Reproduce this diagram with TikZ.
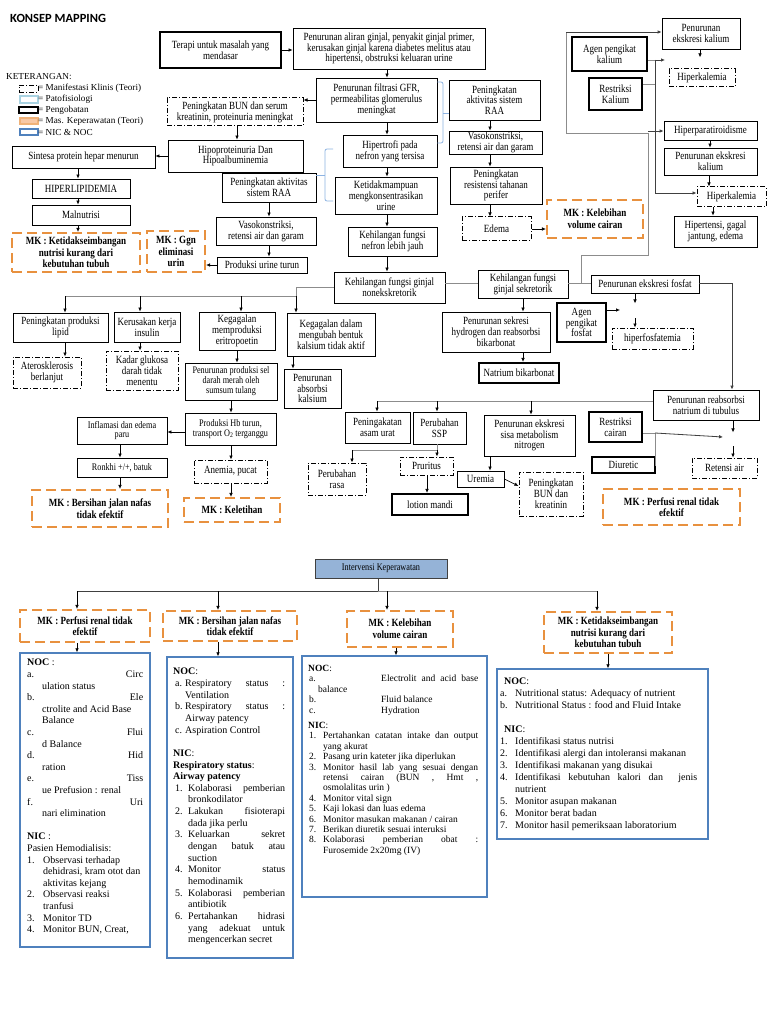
\documentclass[tikz,border=0pt]{standalone}
\usepackage{fontspec}
\setmainfont{Liberation Serif}
\newfontfamily\cfont[FakeStretch=0.82]{Liberation Serif}
\newfontfamily\ttlfont{Carlito}
\usetikzlibrary{arrows.meta}
\definecolor{mkor}{HTML}{E8913F}
\definecolor{nicb}{HTML}{4F81BD}
\definecolor{lgray}{HTML}{8C8C8C}
\definecolor{dgray}{HTML}{404040}
\definecolor{brkb}{HTML}{8DB3E2}
\definecolor{intf}{HTML}{95B3D7}
\definecolor{pato}{HTML}{A9D3E2}
\definecolor{peach}{HTML}{F7C8A5}
\newcommand\tfA{\cfont\fontsize{11}{10.8}\selectfont}
\newcommand\tfS{\cfont\fontsize{10}{9.9}\selectfont}
\newcommand\tfB{\cfont\bfseries\fontsize{11}{11.6}\selectfont}
\newcommand\tfL{\fontsize{9.2}{10}\selectfont}
\newcommand\jl[2]{\hbox to #1{#2}}
\newcommand\bx[7]{%
 \pgfmathsetmacro\bxcx{(#3+#5)/2}%
 \pgfmathsetmacro\bxcy{(#4+#6)/2}%
 \pgfmathsetmacro\bxw{#5-#3}%
 \pgfmathsetmacro\bxh{#6-#4}%
 \node[#1, minimum width=\bxw pt, minimum height=\bxh pt] (#2) at (\bxcx,\bxcy) {#7};}
\newcommand\va[3]{\draw[arr] (#1.south -| #3,0) -- (#2.north -| #3,0);}
\newcommand\har[3]{\draw[arr] (#1.east |- 0,#3) -- (#2.west |- 0,#3);}
\newcommand\hal[3]{\draw[arr] (#1.west |- 0,#3) -- (#2.east |- 0,#3);}
\tikzset{
 base/.style={draw=black, line width=0.8pt, fill=white, align=center, inner sep=1pt, font=\tfA},
 pbox/.style={base},
 sbox/.style={base, font=\tfS},
 thk/.style={base, line width=2.2pt},
 mani/.style={base, line width=1pt, dash pattern=on 5pt off 2pt on 1pt off 2pt},
 mk/.style={base, draw=mkor, line width=2.2pt, dash pattern=on 10pt off 5pt, font=\tfB},
 nic/.style={draw=nicb, line width=1.3pt, fill=white, inner sep=0pt},
 arr/.style={-{Latex[length=4pt,width=3.6pt]}, line width=0.7pt, draw=black},
 ln/.style={line width=0.8pt, draw=lgray},
 lna/.style={ln, -{Latex[length=4pt,width=3.6pt]}, draw=dgray},
 brk/.style={draw=brkb, line width=0.8pt, rounded corners=2pt},
 ntxt/.style={anchor=north west, align=left, inner sep=0pt},
}
\begin{document}
\begin{tikzpicture}[x=1pt,y=-1pt]
\useasboundingbox (0,0) rectangle (768,1024);
\fill[white] (0,0) rectangle (768,1024);
% title and legend
\node[anchor=base west, inner sep=0pt, font=\ttlfont\bfseries\fontsize{12.5}{14}\selectfont] (title) at (10,23) {KONSEP MAPPING};
\node[anchor=west, inner sep=0pt, font=\tfL] (ket) at (6,76.5) {KETERANGAN:};
\bx{mani, inner sep=0pt, line width=0.8pt}{lg1}{19}{85}{38}{92}{}
\bx{base, draw=pato, line width=1.4pt, inner sep=0pt}{lg2}{20}{96}{38}{103}{}
\bx{thk, inner sep=0pt, line width=1.8pt}{lg3}{19}{107}{38}{113}{}
\bx{base, fill=peach, draw=mkor!70, line width=1.2pt, inner sep=0pt}{lg4}{20}{118}{38}{124}{}
\bx{base, draw=nicb, fill=white, line width=1.6pt, inner sep=0pt}{lg5}{20}{129}{38}{135}{}
\begin{scope}[every node/.style={anchor=west, inner sep=0pt, font=\tfL}]
\node (lt1) at (38,88.5) {= Manifestasi Klinis (Teori)};
\node (lt2) at (38,99.5) {= Patofisiologi};
\node (lt3) at (38,110.5) {= Pengobatan};
\node (lt4) at (38,121.5) {= Mas. Keperawatan (Teori)};
\node (lt5) at (38,132.5) {= NIC \& NOC};
\end{scope}
% ---------- top diagram nodes
\bx{thk}{terapi}{160}{32}{281}{68}{Terapi untuk masalah yang\\mendasar}
\bx{pbox}{aliran}{293}{28}{485}{69}{Penurunan aliran ginjal, penyakit ginjal primer,\\kerusakan ginjal karena diabetes melitus atau\\hipertensi, obstruksi keluaran urine}
\bx{pbox}{gfr}{316}{78}{437}{122}{Penurunan filtrasi GFR,\\permeabilitas glomerulus\\meningkat}
\bx{mani}{bun}{167}{98}{303}{126}{Peningkatan BUN dan serum\\kreatinin, proteinuria meningkat}
\bx{pbox}{hipo}{168}{140}{303}{172}{Hipoproteinuria Dan\\Hipoalbuminemia}
\bx{pbox}{sintesa}{12}{146}{155}{168}{Sintesa protein hepar menurun}
\bx{pbox}{hiperlip}{32}{179}{130}{198}{HIPERLIPIDEMIA}
\bx{pbox}{malnut}{32}{205}{130}{225}{Malnutrisi}
\bx{mk}{mk1}{12}{233}{140}{272}{MK : Ketidakseimbangan\\nutrisi kurang dari\\kebutuhan tubuh}
\bx{mk}{mk2}{147}{231}{205}{272}{MK : Ggn\\eliminasi\\urin}
\bx{pbox}{raaL}{222}{173}{316}{202}{Peningkatan aktivitas\\sistem RAA}
\bx{pbox}{vasoL}{216}{217}{316}{245}{Vasokonstriksi,\\retensi air dan garam}
\bx{pbox}{produksi}{217}{257}{307}{273}{Produksi urine turun}
\bx{pbox}{hipertrofi}{343}{135}{437}{167}{Hipertrofi pada\\nefron yang tersisa}
\bx{pbox}{ketidak}{335}{177}{437}{214}{Ketidakmampuan\\mengkonsentrasikan\\urine}
\bx{pbox}{nefron}{348}{227}{437}{256}{Kehilangan fungsi\\nefron lebih jauh}
\bx{pbox}{nonsek}{334}{272}{445}{303}{Kehilangan fungsi ginjal\\nonekskretorik}
\bx{pbox}{sek}{478}{270}{568}{298}{Kehilangan fungsi\\ginjal sekretorik}
\bx{pbox}{raaR}{449}{80}{540}{120}{Peningkatan\\aktivitas sistem\\RAA}
\bx{pbox}{vasoR}{449}{131}{542}{154}{Vasokonstriksi,\\retensi air dan garam}
\bx{pbox}{resist}{450}{167}{542}{204}{Peningkatan\\resistensi tahanan\\perifer}
\bx{mani}{edema}{462}{217}{531}{240}{Edema}
\bx{mk}{mk3}{547}{200}{643}{238}{MK : Kelebihan\\volume cairan}
\bx{thk}{agenK}{572}{37}{647}{71}{Agen pengikat\\kalium}
\bx{thk}{restK}{589}{78}{642}{110}{Restriksi\\Kalium}
\bx{pbox}{ekskK}{662}{18}{740}{49}{Penurunan\\ekskresi kalium}
\bx{mani}{hiperK1}{669}{69}{735}{87}{Hiperkalemia}
\bx{pbox}{hpt}{664}{121}{757}{140}{Hiperparatiroidisme}
\bx{pbox}{ekskK2}{664}{148}{757}{175}{Penurunan ekskresi\\kalium}
\bx{mani}{hiperK2}{697}{187}{766}{207}{Hiperkalemia}
\bx{pbox}{hipertensi}{674}{216}{757}{247}{Hipertensi, gagal\\jantung, edema}
\bx{pbox}{lipid}{13}{313}{108}{342}{Peningkatan produksi\\lipid}
\bx{pbox}{insulin}{114}{312}{180}{342}{Kerusakan kerja\\insulin}
\bx{pbox}{eritro}{199}{312}{275}{350}{Kegagalan\\memproduksi\\eritropoetin}
\bx{pbox}{kalsium}{287}{313}{375}{356}{Kegagalan dalam\\mengubah bentuk\\kalsium tidak aktif}
\bx{mani}{ater}{13}{357}{81}{388}{Aterosklerosis\\berlanjut}
\bx{mani}{glukosa}{106}{351}{178}{390}{Kadar glukosa\\darah tidak\\menentu}
\bx{sbox}{sdm}{185}{363}{277}{400}{Penurunan produksi sel\\darah merah oleh\\sumsum tulang}
\bx{pbox}{absorbsi}{284}{369}{341}{408}{Penurunan\\absorbsi\\kalsium}
\bx{sbox}{hb}{185}{413}{276}{445}{Produksi Hb turun,\\transport O\textsubscript{2} terganggu}
\bx{sbox}{inflamasi}{77}{417}{167}{444}{Inflamasi dan edema\\paru}
\bx{sbox}{ronkhi}{77}{458}{167}{477}{Ronkhi +/+, batuk}
\bx{mk}{mk4}{32}{490}{168}{527}{MK : Bersihan jalan nafas\\tidak efektif}
\bx{mani}{anemia}{194}{460}{267}{483}{Anemia, pucat}
\bx{mk}{mk5}{184}{498}{280}{522}{MK : Keletihan}
\bx{pbox}{hydrogen}{442}{312}{550}{352}{Penurunan sekresi\\hydrogen dan reabsorbsi\\bikarbonat}
\bx{thk}{natrium}{479}{363}{559}{383}{Natrium bikarbonat}
\bx{pbox}{fosfat}{591}{275}{699}{293}{Penurunan ekskresi fosfat}
\bx{thk}{agenF}{557}{303}{606}{342}{Agen\\pengikat\\fosfat}
\bx{mani}{hiperF}{612}{328}{693}{349}{hiperfosfatemia}
\bx{pbox}{reabs}{653}{390}{759}{420}{Penurunan reabsorbsi\\natrium di tubulus}
\bx{pbox}{urat}{345}{412}{410}{443}{Peningakatan\\asam urat}
\bx{pbox}{ssp}{413}{412}{466}{444}{Perubahan\\SSP}
\bx{pbox}{nitrogen}{484}{415}{575}{456}{Penurunan ekskresi\\sisa metabolism\\nitrogen}
\bx{mani}{rasa}{308}{463}{366}{495}{Perubahan\\rasa}
\bx{mani}{pruritus}{400}{457}{453}{475}{Pruritus}
\bx{thk}{lotion}{392}{494}{468}{515}{lotion mandi}
\bx{pbox}{uremia}{457}{471}{504}{487}{Uremia}
\bx{mani}{bunR}{519}{472}{583}{516}{Peningkatan\\BUN dan\\kreatinin}
\bx{thk}{restC}{589}{412}{642}{442}{Restriksi\\cairan}
\bx{thk}{diuretic}{592}{457}{655}{473}{Diuretic}
\bx{mani}{retensi}{692}{458}{757}{478}{Retensi air}
\bx{mk}{mk6}{603}{489}{740}{525}{MK : Perfusi renal tidak\\efektif}
% ---------- top connectors
\har{terapi}{aliran}{50}
\va{aliran}{gfr}{387}
\hal{gfr}{bun}{100}
\va{bun}{hipo}{237}
\hal{hipo}{sintesa}{156}
\va{sintesa}{hiperlip}{78}
\va{hiperlip}{malnut}{78}
\va{malnut}{mk1}{78}
\va{gfr}{hipertrofi}{387}
\va{hipertrofi}{ketidak}{387}
\va{ketidak}{nefron}{387}
\va{nefron}{nonsek}{387}
\va{raaL}{vasoL}{269}
\va{vasoL}{produksi}{269}
\hal{produksi}{mk2}{265}
\va{raaR}{vasoR}{490}
\va{vasoR}{resist}{490}
\va{resist}{edema}{490}
\har{edema}{mk3}{229}
% brackets
\draw[brk] (gfr.east |- 0,82) -- (443,82) -- (443,143) -- (hipertrofi.east |- 0,143);
\draw[brk] (443,113) -- (raaR.west |- 0,113);
\draw[brk] (333,149) -- (325,149) -- (325,201) -- (333,201);
\draw[brk] (325,175) -- (raaL.east |- 0,175);
% nonsekretorik branches
\coordinate (jL) at (296,296);
\draw[ln] (nonsek.west |- 0,287) -| (jL);
\draw[ln] (jL) -- (65,296);
\draw[arr] (65,296) -- (lipid.north -| 65,0);
\draw[arr] (140,296) -- (insulin.north -| 140,0);
\draw[arr] (241,296) -- (eritro.north -| 241,0);
\draw[arr] (jL) -- (kalsium.north -| 296,0);
\draw[ln] (nonsek.east |- 0,283) -- (sek.west |- 0,283);
\va{lipid}{ater}{65}
\va{insulin}{glukosa}{140}
\va{eritro}{sdm}{237}
\va{sdm}{hb}{231}
\hal{hb}{inflamasi}{432}
\va{inflamasi}{ronkhi}{120}
\va{ronkhi}{mk4}{120}
\va{hb}{anemia}{231}
\va{anemia}{mk5}{231}
\va{kalsium}{absorbsi}{293}
\va{sek}{hydrogen}{523}
\va{hydrogen}{natrium}{523}
% sekretorik to right side
\draw[ln] (sek.east |- 0,283) -- (fosfat.west |- 0,283);
\draw[ln] (581,283) -- (581,255) -- (648,255) -- (648,133) -- (566,133) -- (566,32);
\draw[lna] (566,32) -- (ekskK.west |- 0,32);
\draw[lna] (648,131) -- (hpt.west |- 0,131);
\draw[ln] (agenK.east |- 0,60) -- (655,60);
\draw[ln] (restK.east |- 0,84) -- (655,84);
\draw[lna] (655,60) -- (665,60);
\draw[lna] (655,60) |- (hiperK2.west |- 0,193);
\draw[arr] (ekskK.south -| 700,0) -- ++(0,8);
\va{hpt}{ekskK2}{710}
\va{ekskK2}{hiperK2}{709}
\va{hiperK2}{hipertensi}{713}
% fosfat
\draw[arr] (fosfat.south -| 635,0) -- ++(0,10);
\draw[arr] (635,318) -- (hiperF.north -| 635,0);
\draw[arr] (agenF.east |- 0,310) -- (620,310);
\draw[lna] (fosfat.east |- 0,283) -| (reabs.north -| 732,0);
% reabsorbsi row
\draw[ln] (reabs.west |- 0,401) -- (377,401);
\draw[arr] (377,401) -- (urat.north -| 377,0);
\draw[arr] (437,401) -- (ssp.north -| 437,0);
\draw[arr] (531,401) -- (nitrogen.north -| 531,0);
\draw[ln] (ssp.south -| 437,0) -- (437,450) -- (352,450);
\draw[arr] (352,450) -- (rasa.north -| 352,0);
\draw[arr] (437,450) -- (pruritus.north -| 437,0);
\va{pruritus}{lotion}{427}
\va{nitrogen}{uremia}{490}
\draw[arr] (uremia.east |- 0,479) -- (bunR.west |- 0,486);
\draw[arr] (reabs.south -| 733,0) -- ++(0,12);
\draw[arr] (733,446) -- (retensi.north -| 733,0);
\draw[ln] (restC.east |- 0,433) -- (655,433);
\draw[ln] (diuretic.east |- 0,465) -- (655,465) -- (655,433);
\draw[lna] (655,433) -- (723,437);
% ---------- bottom part
\bx{base, fill=intf, draw=dgray, line width=1pt, font=\tfS}{interv}{315}{559}{447}{578}{Intervensi Keperawatan}
\bx{mk}{mkA}{20}{610}{150}{642}{MK : Perfusi renal tidak\\efektif}
\bx{mk}{mkB}{163}{611}{297}{641}{MK : Bersihan jalan nafas\\tidak efektif}
\bx{mk}{mkC}{347}{611}{453}{647}{MK : Kelebihan\\volume cairan}
\bx{mk}{mkD}{544}{612}{672}{653}{MK : Ketidakseimbangan\\nutrisi kurang dari\\kebutuhan tubuh}
\draw[line width=0.9pt, draw=dgray] (interv.south -| 378,0) -- (378,591);
\draw[line width=0.9pt, draw=dgray] (77,591) -- (378,591);
\draw[line width=0.9pt, draw=lgray] (378,591) -- (597,591);
\draw[arr] (77,591) -- (mkA.north -| 77,0);
\draw[arr] (218,591) -- (mkB.north -| 218,0);
\draw[arr] (387,591) -- (mkC.north -| 387,0);
\draw[arr] (597,591) -- (mkD.north -| 597,0);
\bx{nic}{nocA}{20}{653}{150}{947}{}
\bx{nic}{nocB}{167}{657}{293}{958}{}
\bx{nic}{nocC}{302}{656}{487}{897}{}
\bx{nic}{nocD}{497}{669}{708}{839}{}
\va{mkA}{nocA}{77}
\va{mkB}{nocB}{218}
\va{mkC}{nocC}{396}
\va{mkD}{nocD}{608}
\node[ntxt, font=\fontsize{10}{11.6}\selectfont] (tA) at (27,659) {%
\textbf{NOC} :\\
\jl{116pt}{a.\hfill Circ}\\
\hspace*{15pt}ulation status\\
\jl{116pt}{b.\hfill Ele}\\
\hspace*{15pt}ctrolite and Acid Base\\
\hspace*{15pt}Balance\\
\jl{116pt}{c.\hfill Flui}\\
\hspace*{15pt}d Balance\\
\jl{116pt}{d.\hfill Hid}\\
\hspace*{15pt}ration\\
\jl{116pt}{e.\hfill Tiss}\\
\hspace*{15pt}ue Prefusion : renal\\
\jl{116pt}{f.\hfill Uri}\\
\hspace*{15pt}nari elimination\\[11.6pt]
\textbf{NIC} :\\
Pasien Hemodialisis:\\
\makebox[16pt][l]{1.}Observasi terhadap\\
\hspace*{16pt}dehidrasi, kram otot dan\\
\hspace*{16pt}aktivitas kejang\\
\makebox[16pt][l]{2.}Observasi reaksi\\
\hspace*{16pt}tranfusi\\
\makebox[16pt][l]{3.}Monitor TD\\
\makebox[16pt][l]{4.}Monitor BUN, Creat,};
\node[ntxt, font=\fontsize{10}{11.65}\selectfont] (tB) at (173,668) {%
\textbf{NOC}:\\
\hspace*{2pt}\jl{110pt}{\makebox[10pt][l]{a.}Respiratory\hfill status\hfill :}\\
\hspace*{12pt}Ventilation\\
\hspace*{2pt}\jl{110pt}{\makebox[10pt][l]{b.}Respiratory\hfill status\hfill :}\\
\hspace*{12pt}Airway patency\\
\hspace*{2pt}\makebox[10pt][l]{c.}Aspiration Control\\[11.65pt]
\textbf{NIC}:\\
\textbf{Respiratory status}:\\
\textbf{Airway patency}\\
\hspace*{2pt}\makebox[13pt][l]{1.}\jl{97pt}{Kolaborasi\hfill pemberian}\\
\hspace*{15pt}bronkodilator\\
\hspace*{2pt}\makebox[13pt][l]{2.}\jl{97pt}{Lakukan\hfill fisioterapi}\\
\hspace*{15pt}dada jika perlu\\
\hspace*{2pt}\makebox[13pt][l]{3.}\jl{97pt}{Keluarkan\hfill sekret}\\
\hspace*{15pt}\jl{97pt}{dengan\hfill batuk\hfill atau}\\
\hspace*{15pt}suction\\
\hspace*{2pt}\makebox[13pt][l]{4.}\jl{97pt}{Monitor\hfill status}\\
\hspace*{15pt}hemodinamik\\
\hspace*{2pt}\makebox[13pt][l]{5.}\jl{97pt}{Kolaborasi\hfill pemberian}\\
\hspace*{15pt}antibiotik\\
\hspace*{2pt}\makebox[13pt][l]{6.}\jl{97pt}{Pertahankan\hfill hidrasi}\\
\hspace*{15pt}\jl{97pt}{yang\hfill adekuat\hfill untuk}\\
\hspace*{15pt}mengencerkan secret};
\node[ntxt, font=\fontsize{9.5}{10.4}\selectfont] (tC) at (308,665) {%
\textbf{NOC}:\\
\hspace*{1pt}\jl{169pt}{\makebox[72pt][l]{a.}Electrolit\hfill and\hfill acid\hfill base}\\
\hspace*{10pt}balance\\
\hspace*{1pt}\makebox[72pt][l]{b.}Fluid balance\\
\hspace*{1pt}\makebox[72pt][l]{c.}Hydration\\[5pt]
\textbf{NIC}:\\
\hspace*{1pt}\makebox[14pt][l]{1.}\jl{155pt}{Pertahankan\hfill catatan\hfill intake\hfill dan\hfill output}\\
\hspace*{15pt}yang akurat\\
\hspace*{1pt}\makebox[14pt][l]{2.}Pasang urin kateter jika diperlukan\\
\hspace*{1pt}\makebox[14pt][l]{3.}\jl{155pt}{Monitor\hfill hasil\hfill lab\hfill yang\hfill sesuai\hfill dengan}\\
\hspace*{15pt}\jl{155pt}{retensi\hfill cairan\hfill (BUN\hfill ,\hfill Hmt\hfill ,}\\
\hspace*{15pt}osmolalitas urin )\\
\hspace*{1pt}\makebox[14pt][l]{4.}Monitor vital sign\\
\hspace*{1pt}\makebox[14pt][l]{5.}Kaji lokasi dan luas edema\\
\hspace*{1pt}\makebox[14pt][l]{6.}Monitor masukan makanan / cairan\\
\hspace*{1pt}\makebox[14pt][l]{7.}Berikan diuretik sesuai interuksi\\
\hspace*{1pt}\makebox[14pt][l]{8.}\jl{155pt}{Kolaborasi\hfill pemberian\hfill obat\hfill :}\\
\hspace*{15pt}Furosemide 2x20mg (IV)};
\node[ntxt, font=\fontsize{10}{12}\selectfont] (tD) at (500,678) {%
\hspace*{4pt}\textbf{NOC}:\\
\makebox[15pt][l]{a.}Nutritional status: Adequacy of nutrient\\
\makebox[15pt][l]{b.}Nutritional Status : food and Fluid Intake\\[12pt]
\hspace*{4pt}\textbf{NIC}:\\
\makebox[15pt][l]{1.}Identifikasi status nutrisi\\
\makebox[15pt][l]{2.}Identifikasi alergi dan intoleransi makanan\\
\makebox[15pt][l]{3.}Identifikasi makanan yang disukai\\
\makebox[15pt][l]{4.}\jl{182pt}{Identifikasi\hfill kebutuhan\hfill kalori\hfill dan\hfill\hfill jenis}\\
\hspace*{15pt}nutrient\\
\makebox[15pt][l]{5.}Monitor asupan makanan\\
\makebox[15pt][l]{6.}Monitor berat badan\\
\makebox[15pt][l]{7.}Monitor hasil pemeriksaan laboratorium};
\end{tikzpicture}
\end{document}
